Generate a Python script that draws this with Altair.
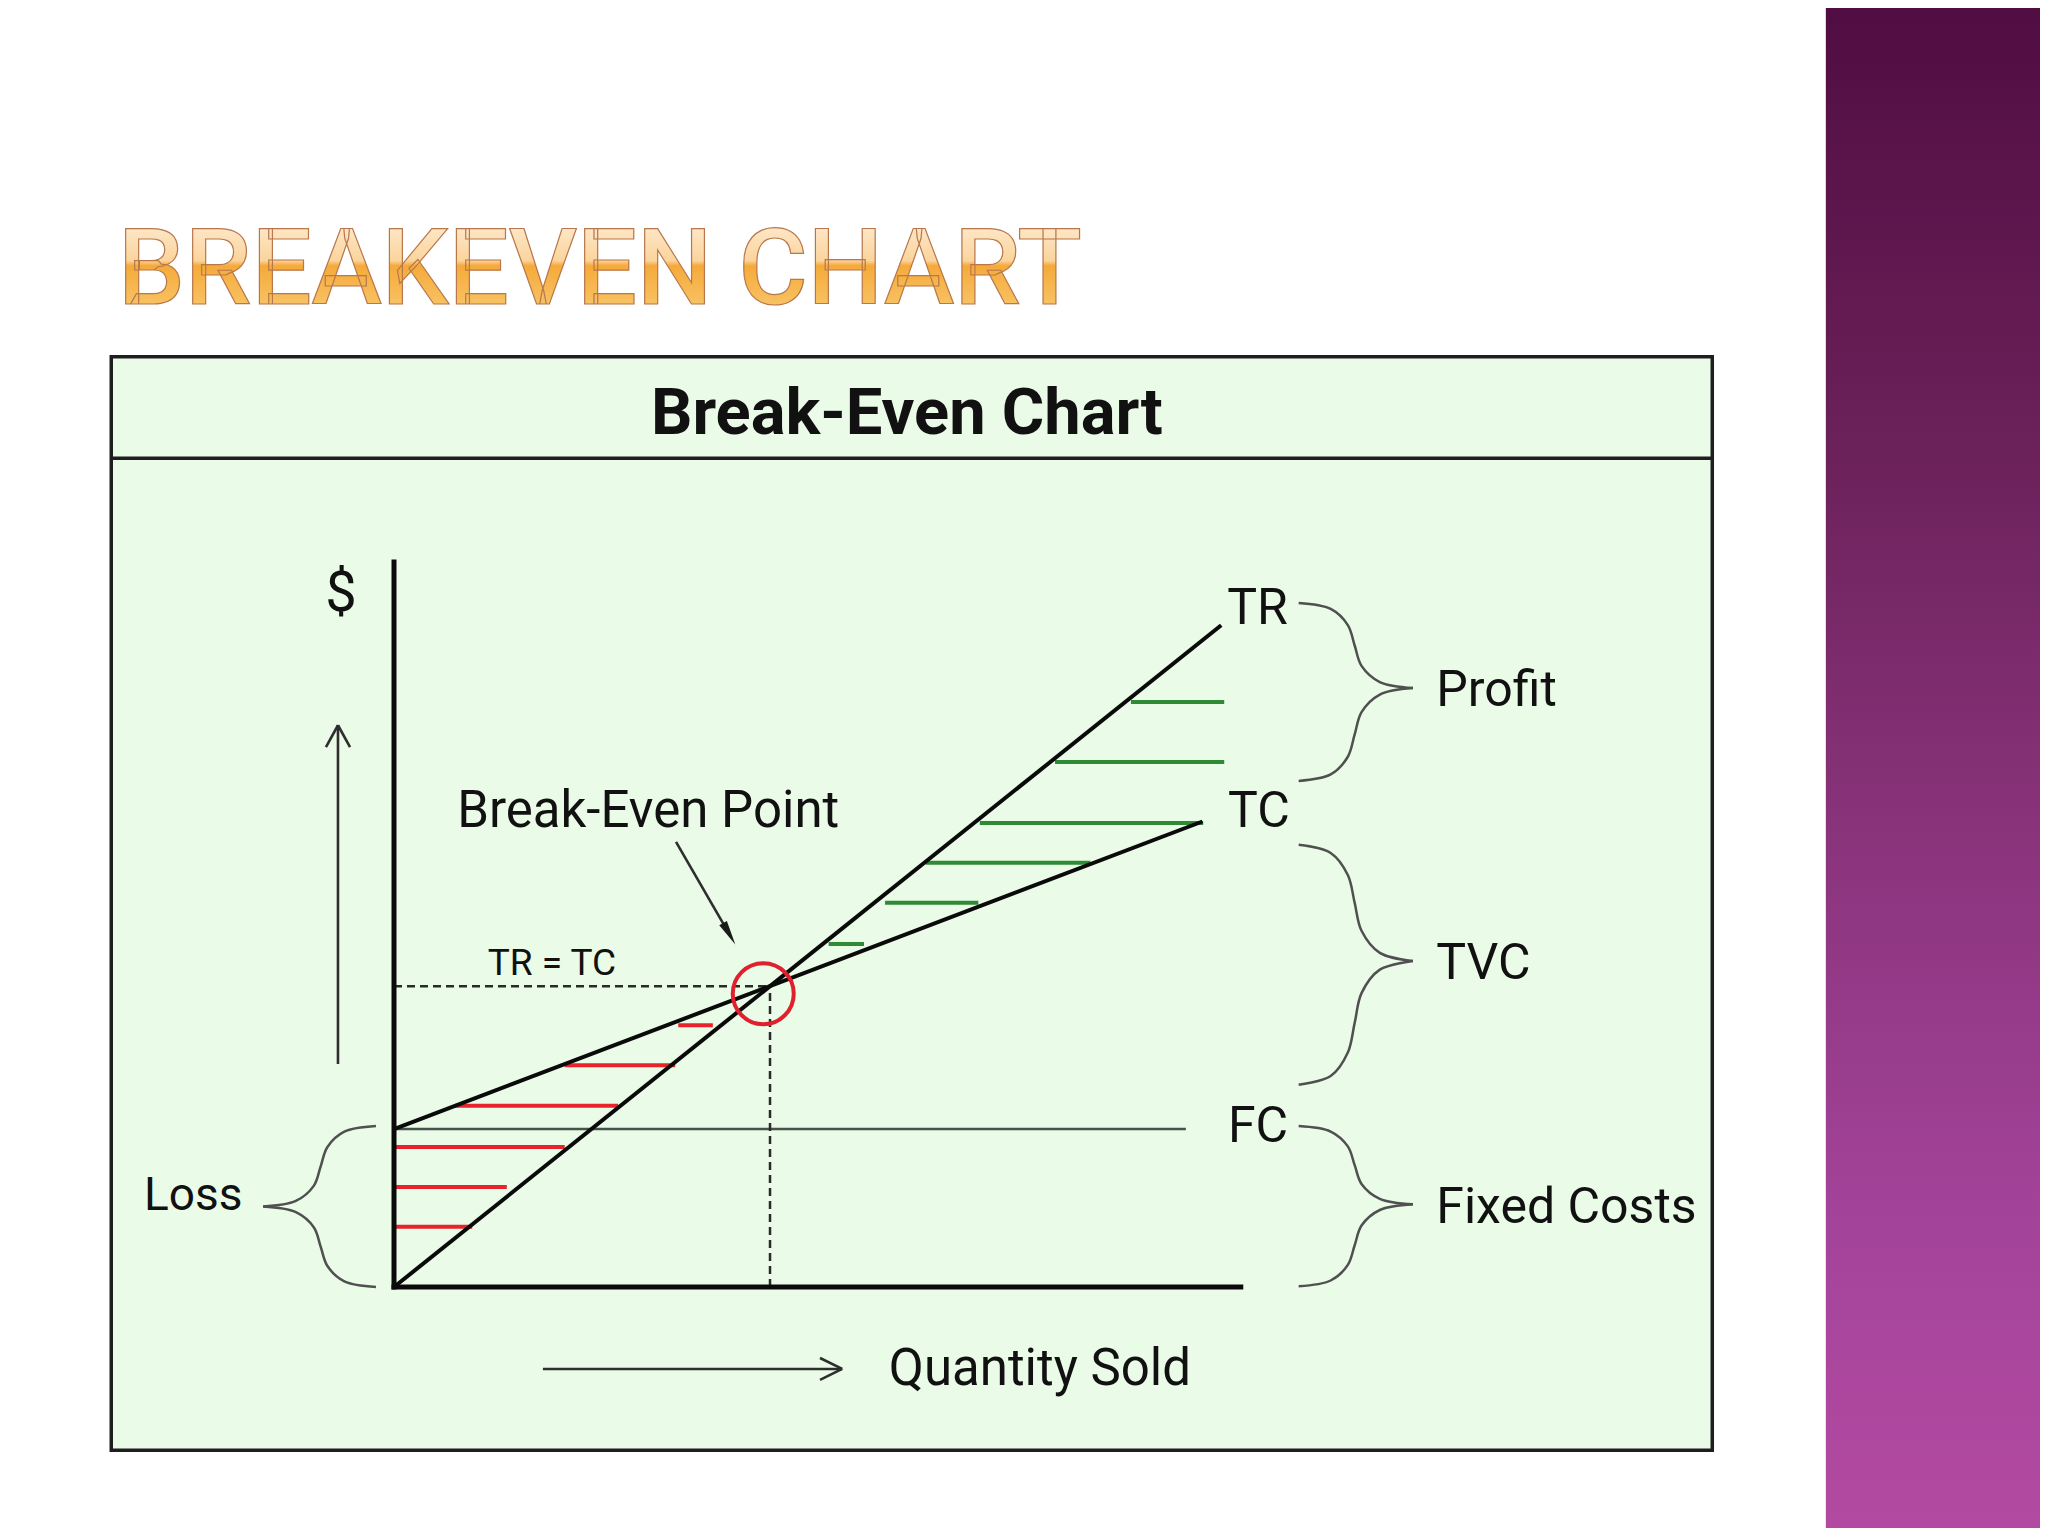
import altair as alt
import pandas as pd

# ---------------- data (Quantity units on x, $ units on y) ----------------
TR_Q = [0.0, 110.0]
TR_D = [0.0, 88.0]
TC_Q = [0.0, 107.5]
TC_D = [21.0, 61.9]
FC_Q = [0.0, 105.3]
FC_D = [21.0, 21.0]
BE_Q = 50.0
BE_D = 40.0

# hatching: loss (red) and profit (green) horizontal strokes
LOSS_D = [34.8, 29.5, 24.1, 18.6, 13.3, 8.0]
LOSS_Q0 = [37.8, 22.7, 8.1, 0.0, 0.0, 0.0]
LOSS_Q1 = [42.4, 37.4, 29.8, 22.7, 15.0, 10.4]
PROFIT_D = [77.8, 69.8, 61.7, 56.4, 51.1, 45.6]
PROFIT_Q0 = [98.0, 87.9, 77.9, 70.7, 65.3, 57.8]
PROFIT_Q1 = [110.4, 110.4, 107.6, 92.6, 77.7, 62.5]

# labels
TEXTS = ["Break-Even Chart", "$", "Break-Even Point", "TR = TC", "TR", "TC", "FC",
         "Profit", "TVC", "Fixed Costs", "Loss", "Quantity Sold"]
SLIDE_TITLE = "BREAKEVEN CHART"

# ---------------- layout (same units) ----------------
X_DOMAIN = [-51.33, 218.88]
Y_DOMAIN = [-32.05, 170.08]
TEXT_Q = [68.2, -7.05, 33.8, 21.0, 110.8, 110.9, 110.9, 138.6, 138.6, 138.6, -26.7, 65.8]
TEXT_D = [113.4, 89.9, 61.2, 41.5, 88.2, 61.2, 19.3, 77.3, 41.0, 8.5, 10.2, -13.0]
TEXT_SIZE = [65, 56, 51, 37, 50, 50, 50, 50, 50, 50, 46, 51]
TEXT_ALIGN = ["center", "center", "center", "center", "left", "left", "left",
              "left", "left", "left", "center", "left"]
TEXT_WEIGHT = ["bold"] + ["normal"] * 11
TITLE_Q, TITLE_D = -36.7, 130.7

BOX_Q = [-37.6, 175.3]
BOX_D = [-21.7, 123.7]
HEADER_D = 110.2
PURPLE_Q = [190.4, 240.0]
PURPLE_D = [-40.0, 180.0]
YAXIS_TOP = 96.4
XAXIS_END = 112.6

# braces: (open x, tip x, top y, tip y, bottom y)
BRACES = [
    (120.3, 135.5, 90.96, 79.65, 67.3),
    (120.3, 135.5, 58.8, 43.35, 26.9),
    (120.3, 135.5, 21.4, 11.0, 0.1),
    (-2.4, -17.4, 21.4, 10.7, 0.0),
]
# shape of one half-brace (fraction across, fraction toward the tip)
BRACE_U = [0.0, 0.28, 0.43, 0.49, 0.55, 0.71, 1.0]
BRACE_V = [0.0, 0.07, 0.26, 0.5, 0.74, 0.93, 1.0]

# arrows
UP_ARROW = dict(q=-7.45, d0=29.65, d1=74.7, hq=1.6, hd=2.9)
RIGHT_ARROW = dict(d=-10.9, q0=19.8, q1=59.6, hq=2.95, hd=1.46)
POINTER = dict(q0=37.5, d0=59.2, q1=44.57, d1=46.97)
CIRCLE_Q, CIRCLE_D = 49.1, 39.0

xs = alt.Scale(domain=X_DOMAIN, nice=False, zero=False)
ys = alt.Scale(domain=Y_DOMAIN, nice=False, zero=False)


def X(f="q"):
    return alt.X(f"{f}:Q", scale=xs, axis=None)


def Y(f="d"):
    return alt.Y(f"{f}:Q", scale=ys, axis=None)


def rules(df, **mk):
    return alt.Chart(df).mark_rule(**mk).encode(
        x=X("q"), x2=alt.X2("q2:Q"), y=Y("d"), y2=alt.Y2("d2:Q"))


layers = []

# purple side band
purple = pd.DataFrame([dict(q=PURPLE_Q[0], q2=PURPLE_Q[1], d=PURPLE_D[0], d2=PURPLE_D[1])])
layers.append(alt.Chart(purple).mark_rect(
    fill=alt.Gradient(gradient="linear", x1=0, x2=0, y1=0, y2=1, stops=[
        alt.GradientStop(color="#4c0a3e", offset=0),
        alt.GradientStop(color="#6a2058", offset=0.3),
        alt.GradientStop(color="#8a347c", offset=0.55),
        alt.GradientStop(color="#a4439a", offset=0.78),
        alt.GradientStop(color="#b64ba3", offset=1),
    ])).encode(x=X("q"), x2=alt.X2("q2:Q"), y=Y("d"), y2=alt.Y2("d2:Q")))

# green panel
box = pd.DataFrame([dict(q=BOX_Q[0], q2=BOX_Q[1], d=BOX_D[0], d2=BOX_D[1])])
layers.append(alt.Chart(box).mark_rect(fill="#eafbe8", stroke="#1e1e1e", strokeWidth=3.5).encode(
    x=X("q"), x2=alt.X2("q2:Q"), y=Y("d"), y2=alt.Y2("d2:Q")))
layers.append(rules(pd.DataFrame([dict(q=BOX_Q[0], q2=BOX_Q[1], d=HEADER_D, d2=HEADER_D)]),
                    color="#1e1e1e", strokeWidth=3.5))

# slide title
layers.append(alt.Chart(pd.DataFrame([dict(q=TITLE_Q, d=TITLE_D, t=SLIDE_TITLE)])).mark_text(
    align="left", baseline="alphabetic", font="Roboto", fontSize=106, fontWeight=500,
    fill=alt.Gradient(gradient="linear", x1=0, x2=0, y1=0, y2=1, stops=[
        alt.GradientStop(color="#fff2e2", offset=0),
        alt.GradientStop(color="#fbd49c", offset=0.44),
        alt.GradientStop(color="#f5aa3a", offset=0.48),
        alt.GradientStop(color="#f8c264", offset=0.8),
        alt.GradientStop(color="#fcd898", offset=1),
    ]),
    stroke="#b8784c", strokeWidth=1.2).encode(x=X(), y=Y(), text="t:N"))

# hatching
loss = pd.DataFrame(dict(q=LOSS_Q0, q2=LOSS_Q1, d=LOSS_D, d2=LOSS_D))
prof = pd.DataFrame(dict(q=PROFIT_Q0, q2=PROFIT_Q1, d=PROFIT_D, d2=PROFIT_D))
layers.append(rules(loss, color="#e8232c", strokeWidth=4))
layers.append(rules(prof, color="#2f8a36", strokeWidth=4))

# fixed cost line
layers.append(rules(pd.DataFrame([dict(q=FC_Q[0], q2=FC_Q[1], d=FC_D[0], d2=FC_D[1])]),
                    color="#46524a", strokeWidth=2.5))

# dashed break-even guides
dash = pd.DataFrame([dict(q=0, q2=BE_Q, d=BE_D, d2=BE_D), dict(q=BE_Q, q2=BE_Q, d=0, d2=BE_D)])
layers.append(rules(dash, color="#2a2a2a", strokeWidth=2.5, strokeDash=[8, 5]))

# TR and TC lines
lines = pd.DataFrame(dict(s=["TR", "TR", "TC", "TC"], q=TR_Q + TC_Q, d=TR_D + TC_D))
layers.append(alt.Chart(lines).mark_line(color="#0a0a0a", strokeWidth=4).encode(
    x=X(), y=Y(), detail="s:N"))

# axes
axes = pd.DataFrame([dict(q=0, q2=0, d=0, d2=YAXIS_TOP), dict(q=0, q2=XAXIS_END, d=0, d2=0)])
layers.append(rules(axes, color="#0a0a0a", strokeWidth=5, strokeCap="square"))

# break-even circle
layers.append(alt.Chart(pd.DataFrame([dict(q=CIRCLE_Q, d=CIRCLE_D)])).mark_point(
    shape="circle", size=3721, filled=False, stroke="#e0202c", strokeWidth=4, opacity=1).encode(
    x=X(), y=Y()))

# braces
brows = []
for gi, (x0, x1, yt, ym, yb) in enumerate(BRACES):
    for hi, yend in enumerate([yt, yb]):
        for k, (u, v) in enumerate(zip(BRACE_U, BRACE_V)):
            brows.append(dict(g=f"{gi}-{hi}", k=k,
                              q=x0 + u * (x1 - x0), d=yend + v * (ym - yend)))
layers.append(alt.Chart(pd.DataFrame(brows)).mark_line(
    interpolate="catmull-rom", color="#505050", strokeWidth=2.5).encode(
    x=X(), y=Y(), detail="g:N", order="k:Q"))

# arrows
ua, ra = UP_ARROW, RIGHT_ARROW
arr = pd.DataFrame([
    dict(q=ua["q"], q2=ua["q"], d=ua["d0"], d2=ua["d1"]),
    dict(q=ua["q"], q2=ua["q"] - ua["hq"], d=ua["d1"], d2=ua["d1"] - ua["hd"]),
    dict(q=ua["q"], q2=ua["q"] + ua["hq"], d=ua["d1"], d2=ua["d1"] - ua["hd"]),
    dict(q=ra["q0"], q2=ra["q1"], d=ra["d"], d2=ra["d"]),
    dict(q=ra["q1"], q2=ra["q1"] - ra["hq"], d=ra["d"], d2=ra["d"] + ra["hd"]),
    dict(q=ra["q1"], q2=ra["q1"] - ra["hq"], d=ra["d"], d2=ra["d"] - ra["hd"]),
    dict(q=POINTER["q0"], q2=POINTER["q1"], d=POINTER["d0"], d2=POINTER["d1"]),
])
layers.append(rules(arr, color="#2e2e2e", strokeWidth=2.6))
layers.append(alt.Chart(pd.DataFrame([dict(q=POINTER["q1"], d=POINTER["d1"])])).mark_point(
    shape="M0,1L-0.36,-1L0.36,-1Z", size=600, filled=True, color="#1a1a1a", angle=330,
    opacity=1).encode(x=X(), y=Y()))

# labels
for t, q, d, sz, al, w in zip(TEXTS, TEXT_Q, TEXT_D, TEXT_SIZE, TEXT_ALIGN, TEXT_WEIGHT):
    layers.append(alt.Chart(pd.DataFrame([dict(q=q, d=d, t=t)])).mark_text(
        align=al, baseline="alphabetic", font="Roboto", fontSize=sz, fontWeight=w,
        color="#111111").encode(x=X(), y=Y(), text="t:N"))

chart = alt.layer(*layers).properties(
    width=2032, height=1520, padding=0, background="white",
    autosize=alt.AutoSizeParams(type="none"),
).configure_view(stroke=None)

chart.save("out.html", embed_options={"renderer": "svg", "actions": False})
